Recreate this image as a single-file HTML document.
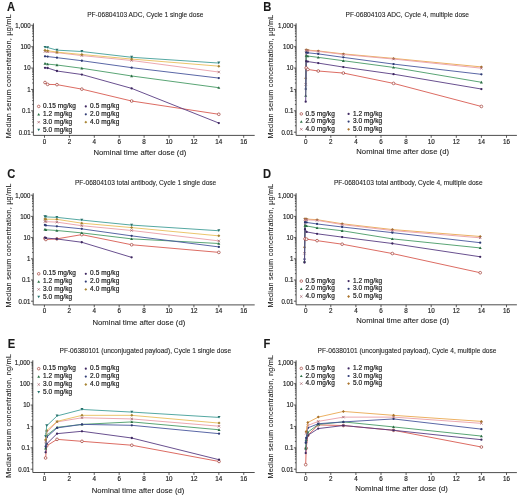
<!DOCTYPE html>
<html><head><meta charset="utf-8"><style>
html,body{margin:0;padding:0;background:#fff;width:520px;height:502px;overflow:hidden}
svg{display:block;filter:blur(0.3px)}
text{stroke:#1a1a1a;stroke-width:0.08px}
.lg{stroke-width:0.2px;letter-spacing:0.08px}
.tk{stroke-width:0.14px}
</style></head><body>
<svg width="520" height="502" viewBox="0 0 520 502" font-family='"Liberation Sans", sans-serif' fill="#1a1a1a">
<text transform="translate(7.0,10.6) scale(1,1.13)" font-size="11.2" font-weight="bold">A</text>
<text x="87.2" y="16.5" font-size="6.6">PF-06804103 ADC, Cycle 1 single dose</text>
<text transform="translate(11.2,138.2) rotate(-90)" font-size="7.3" letter-spacing="0.23">Median serum concentration, µg/mL</text>
<text transform="translate(93.5,154.8)" font-size="7.7">Nominal time after dose (d)</text>
<path d="M33.4,23.3 V135.4 H254.7" fill="none" stroke="#3a3a3a" stroke-width="0.9"/>
<path d="M31.2,132.2 H33.4 M32.2,125.76 H33.4 M32.2,122 H33.4 M32.2,119.33 H33.4 M32.2,117.26 H33.4 M32.2,115.56 H33.4 M32.2,114.13 H33.4 M32.2,112.89 H33.4 M32.2,111.8 H33.4 M31.2,110.82 H33.4 M32.2,104.38 H33.4 M32.2,100.62 H33.4 M32.2,97.95 H33.4 M32.2,95.88 H33.4 M32.2,94.18 H33.4 M32.2,92.75 H33.4 M32.2,91.51 H33.4 M32.2,90.42 H33.4 M31.2,89.44 H33.4 M32.2,83 H33.4 M32.2,79.24 H33.4 M32.2,76.57 H33.4 M32.2,74.5 H33.4 M32.2,72.8 H33.4 M32.2,71.37 H33.4 M32.2,70.13 H33.4 M32.2,69.04 H33.4 M31.2,68.06 H33.4 M32.2,61.62 H33.4 M32.2,57.86 H33.4 M32.2,55.19 H33.4 M32.2,53.12 H33.4 M32.2,51.42 H33.4 M32.2,49.99 H33.4 M32.2,48.75 H33.4 M32.2,47.66 H33.4 M31.2,46.68 H33.4 M32.2,40.24 H33.4 M32.2,36.48 H33.4 M32.2,33.81 H33.4 M32.2,31.74 H33.4 M32.2,30.04 H33.4 M32.2,28.61 H33.4 M32.2,27.37 H33.4 M32.2,26.28 H33.4 M31.2,25.3 H33.4 M44.5,135.4 V137.8 M69.4,135.4 V137.8 M94.3,135.4 V137.8 M119.2,135.4 V137.8 M144.1,135.4 V137.8 M169,135.4 V137.8 M193.9,135.4 V137.8 M218.8,135.4 V137.8 M243.7,135.4 V137.8" fill="none" stroke="#2a2a2a" stroke-width="0.75"/>
<text transform="translate(30.6,27.7) scale(1,1.13)" class="tk" font-size="6.1" text-anchor="end">1,000</text>
<text transform="translate(30.6,49.08) scale(1,1.13)" class="tk" font-size="6.1" text-anchor="end">100</text>
<text transform="translate(30.6,70.46) scale(1,1.13)" class="tk" font-size="6.1" text-anchor="end">10</text>
<text transform="translate(30.6,91.84) scale(1,1.13)" class="tk" font-size="6.1" text-anchor="end">1</text>
<text transform="translate(30.6,113.22) scale(1,1.13)" class="tk" font-size="6.1" text-anchor="end">0.1</text>
<text transform="translate(30.6,134.6) scale(1,1.13)" class="tk" font-size="6.1" text-anchor="end">0.01</text>
<text transform="translate(44.5,143.8) scale(1,1.1)" class="tk" font-size="6.3" text-anchor="middle">0</text>
<text transform="translate(69.4,143.8) scale(1,1.1)" class="tk" font-size="6.3" text-anchor="middle">2</text>
<text transform="translate(94.3,143.8) scale(1,1.1)" class="tk" font-size="6.3" text-anchor="middle">4</text>
<text transform="translate(119.2,143.8) scale(1,1.1)" class="tk" font-size="6.3" text-anchor="middle">6</text>
<text transform="translate(144.1,143.8) scale(1,1.1)" class="tk" font-size="6.3" text-anchor="middle">8</text>
<text transform="translate(169,143.8) scale(1,1.1)" class="tk" font-size="6.3" text-anchor="middle">10</text>
<text transform="translate(193.9,143.8) scale(1,1.1)" class="tk" font-size="6.3" text-anchor="middle">12</text>
<text transform="translate(218.8,143.8) scale(1,1.1)" class="tk" font-size="6.3" text-anchor="middle">14</text>
<text transform="translate(243.7,143.8) scale(1,1.1)" class="tk" font-size="6.3" text-anchor="middle">16</text>
<path d="M45,82.52 L47.61,84.38 L56.95,84.64 L81.85,89.13 L131.65,101.02 L218.8,114.27" fill="none" stroke="#d85c52" stroke-width="1.0" stroke-opacity="0.9"/>
<circle cx="45" cy="82.52" r="1.35" fill="#fff" stroke="#9d3a32" stroke-width="0.7"/>
<circle cx="47.61" cy="84.38" r="1.35" fill="#fff" stroke="#9d3a32" stroke-width="0.7"/>
<circle cx="56.95" cy="84.64" r="1.35" fill="#fff" stroke="#9d3a32" stroke-width="0.7"/>
<circle cx="81.85" cy="89.13" r="1.35" fill="#fff" stroke="#9d3a32" stroke-width="0.7"/>
<circle cx="131.65" cy="101.02" r="1.35" fill="#fff" stroke="#9d3a32" stroke-width="0.7"/>
<circle cx="218.8" cy="114.27" r="1.35" fill="#fff" stroke="#9d3a32" stroke-width="0.7"/>
<path d="M45,67.83 L47.61,68.01 L56.95,71.01 L81.85,74.53 L131.65,88.38 L218.8,123.04" fill="none" stroke="#593d83" stroke-width="1.0" stroke-opacity="0.9"/>
<circle cx="45" cy="67.83" r="1.15" fill="#3d275f"/>
<circle cx="47.61" cy="68.01" r="1.15" fill="#3d275f"/>
<circle cx="56.95" cy="71.01" r="1.15" fill="#3d275f"/>
<circle cx="81.85" cy="74.53" r="1.15" fill="#3d275f"/>
<circle cx="131.65" cy="88.38" r="1.15" fill="#3d275f"/>
<circle cx="218.8" cy="123.04" r="1.15" fill="#3d275f"/>
<path d="M45,63.48 L47.61,64.1 L56.95,65.01 L81.85,68.28 L131.65,75.98 L218.8,87.69" fill="none" stroke="#489b66" stroke-width="1.0" stroke-opacity="0.9"/>
<path d="M45,62.05 L46.5,64.65 L43.5,64.65Z" fill="#2a6c42"/>
<path d="M47.61,62.67 L49.11,65.27 L46.11,65.27Z" fill="#2a6c42"/>
<path d="M56.95,63.58 L58.45,66.18 L55.45,66.18Z" fill="#2a6c42"/>
<path d="M81.85,66.85 L83.35,69.45 L80.35,69.45Z" fill="#2a6c42"/>
<path d="M131.65,74.55 L133.15,77.15 L130.15,77.15Z" fill="#2a6c42"/>
<path d="M218.8,86.26 L220.3,88.86 L217.3,88.86Z" fill="#2a6c42"/>
<path d="M45,56.31 L47.61,56.57 L56.95,57.66 L81.85,60.73 L131.65,67.66 L218.8,78.08" fill="none" stroke="#48579c" stroke-width="1.0" stroke-opacity="0.9"/>
<circle cx="45" cy="56.31" r="1.15" fill="#2e3a72"/>
<circle cx="47.61" cy="56.57" r="1.15" fill="#2e3a72"/>
<circle cx="56.95" cy="57.66" r="1.15" fill="#2e3a72"/>
<circle cx="81.85" cy="60.73" r="1.15" fill="#2e3a72"/>
<circle cx="131.65" cy="67.66" r="1.15" fill="#2e3a72"/>
<circle cx="218.8" cy="78.08" r="1.15" fill="#2e3a72"/>
<path d="M45,51.52 L47.61,51.82 L56.95,52.63 L81.85,55.59 L131.65,60.49 L218.8,72.04" fill="none" stroke="#e99ea7" stroke-width="1.0" stroke-opacity="0.9"/>
<path d="M43.8,50.32 L46.2,52.72 M46.2,50.32 L43.8,52.72" stroke="#a46870" stroke-width="0.8"/>
<path d="M46.41,50.62 L48.81,53.02 M48.81,50.62 L46.41,53.02" stroke="#a46870" stroke-width="0.8"/>
<path d="M55.75,51.43 L58.15,53.83 M58.15,51.43 L55.75,53.83" stroke="#a46870" stroke-width="0.8"/>
<path d="M80.65,54.39 L83.05,56.79 M83.05,54.39 L80.65,56.79" stroke="#a46870" stroke-width="0.8"/>
<path d="M130.45,59.29 L132.85,61.69 M132.85,59.29 L130.45,61.69" stroke="#a46870" stroke-width="0.8"/>
<path d="M217.6,70.84 L220,73.24 M220,70.84 L217.6,73.24" stroke="#a46870" stroke-width="0.8"/>
<path d="M45,50.26 L47.61,50.66 L56.95,52.14 L81.85,54.49 L131.65,59.07 L218.8,66.17" fill="none" stroke="#e9bf5c" stroke-width="1.0" stroke-opacity="0.9"/>
<path d="M45,48.76 L46.5,50.26 L45,51.76 L43.5,50.26Z" fill="#a38132"/>
<path d="M47.61,49.16 L49.11,50.66 L47.61,52.16 L46.11,50.66Z" fill="#a38132"/>
<path d="M56.95,50.64 L58.45,52.14 L56.95,53.64 L55.45,52.14Z" fill="#a38132"/>
<path d="M81.85,52.99 L83.35,54.49 L81.85,55.99 L80.35,54.49Z" fill="#a38132"/>
<path d="M131.65,57.57 L133.15,59.07 L131.65,60.57 L130.15,59.07Z" fill="#a38132"/>
<path d="M218.8,64.67 L220.3,66.17 L218.8,67.67 L217.3,66.17Z" fill="#a38132"/>
<path d="M45,47.36 L47.61,47.56 L56.95,50.13 L81.85,51.52 L131.65,57.29 L218.8,63.05" fill="none" stroke="#439f98" stroke-width="1.0" stroke-opacity="0.9"/>
<path d="M45,48.53 L46.5,45.93 L43.5,45.93Z" fill="#266f6a"/>
<path d="M47.61,48.73 L49.11,46.13 L46.11,46.13Z" fill="#266f6a"/>
<path d="M56.95,51.3 L58.45,48.7 L55.45,48.7Z" fill="#266f6a"/>
<path d="M81.85,52.69 L83.35,50.09 L80.35,50.09Z" fill="#266f6a"/>
<path d="M131.65,58.46 L133.15,55.86 L130.15,55.86Z" fill="#266f6a"/>
<path d="M218.8,64.22 L220.3,61.62 L217.3,61.62Z" fill="#266f6a"/>
<circle cx="38.7" cy="106.4" r="1.28" fill="#fff" stroke="#a23c33" stroke-width="0.7"/>
<text class="lg" x="43" y="108" font-size="6.5">0.15 mg/kg</text>
<circle cx="85.8" cy="106.4" r="1.09" fill="#3f2862"/>
<text class="lg" x="90.1" y="108" font-size="6.5">0.5 mg/kg</text>
<path d="M38.7,112.94 L40.12,115.41 L37.28,115.41Z" fill="#2c7044"/>
<text class="lg" x="43" y="115.9" font-size="6.5">1.2 mg/kg</text>
<circle cx="85.8" cy="114.3" r="1.09" fill="#303c75"/>
<text class="lg" x="90.1" y="115.9" font-size="6.5">2.0 mg/kg</text>
<path d="M37.56,121.06 L39.84,123.34 M39.84,121.06 L37.56,123.34" stroke="#a96b73" stroke-width="0.8"/>
<text class="lg" x="43" y="123.8" font-size="6.5">3.0 mg/kg</text>
<path d="M85.8,120.78 L87.22,122.2 L85.8,123.62 L84.38,122.2Z" fill="#a88533"/>
<text class="lg" x="90.1" y="123.8" font-size="6.5">4.0 mg/kg</text>
<path d="M38.7,131.21 L40.12,128.74 L37.28,128.74Z" fill="#27726d"/>
<text class="lg" x="43" y="131.7" font-size="6.5">5.0 mg/kg</text>
<text transform="translate(263.3,10.7) scale(1,1.13)" font-size="11.2" font-weight="bold">B</text>
<text x="345.5" y="16.5" font-size="6.6">PF-06804103 ADC, Cycle 4, multiple dose</text>
<text transform="translate(272.9,138.5) rotate(-90)" font-size="7.3" letter-spacing="0.23">Median serum concentration, µg/mL</text>
<text transform="translate(356.3,154.10000000000002)" font-size="7.7">Nominal time after dose (d)</text>
<path d="M296.1,23.3 V135.4 H516.9" fill="none" stroke="#3a3a3a" stroke-width="0.9"/>
<path d="M293.9,132.2 H296.1 M294.9,125.76 H296.1 M294.9,122 H296.1 M294.9,119.33 H296.1 M294.9,117.26 H296.1 M294.9,115.56 H296.1 M294.9,114.13 H296.1 M294.9,112.89 H296.1 M294.9,111.8 H296.1 M293.9,110.82 H296.1 M294.9,104.38 H296.1 M294.9,100.62 H296.1 M294.9,97.95 H296.1 M294.9,95.88 H296.1 M294.9,94.18 H296.1 M294.9,92.75 H296.1 M294.9,91.51 H296.1 M294.9,90.42 H296.1 M293.9,89.44 H296.1 M294.9,83 H296.1 M294.9,79.24 H296.1 M294.9,76.57 H296.1 M294.9,74.5 H296.1 M294.9,72.8 H296.1 M294.9,71.37 H296.1 M294.9,70.13 H296.1 M294.9,69.04 H296.1 M293.9,68.06 H296.1 M294.9,61.62 H296.1 M294.9,57.86 H296.1 M294.9,55.19 H296.1 M294.9,53.12 H296.1 M294.9,51.42 H296.1 M294.9,49.99 H296.1 M294.9,48.75 H296.1 M294.9,47.66 H296.1 M293.9,46.68 H296.1 M294.9,40.24 H296.1 M294.9,36.48 H296.1 M294.9,33.81 H296.1 M294.9,31.74 H296.1 M294.9,30.04 H296.1 M294.9,28.61 H296.1 M294.9,27.37 H296.1 M294.9,26.28 H296.1 M293.9,25.3 H296.1 M305.7,135.4 V137.8 M330.8,135.4 V137.8 M355.9,135.4 V137.8 M381,135.4 V137.8 M406.1,135.4 V137.8 M431.2,135.4 V137.8 M456.3,135.4 V137.8 M481.4,135.4 V137.8 M506.5,135.4 V137.8" fill="none" stroke="#2a2a2a" stroke-width="0.75"/>
<text transform="translate(293.3,27.7) scale(1,1.13)" class="tk" font-size="6.1" text-anchor="end">1,000</text>
<text transform="translate(293.3,49.08) scale(1,1.13)" class="tk" font-size="6.1" text-anchor="end">100</text>
<text transform="translate(293.3,70.46) scale(1,1.13)" class="tk" font-size="6.1" text-anchor="end">10</text>
<text transform="translate(293.3,91.84) scale(1,1.13)" class="tk" font-size="6.1" text-anchor="end">1</text>
<text transform="translate(293.3,113.22) scale(1,1.13)" class="tk" font-size="6.1" text-anchor="end">0.1</text>
<text transform="translate(293.3,134.6) scale(1,1.13)" class="tk" font-size="6.1" text-anchor="end">0.01</text>
<text transform="translate(305.7,143.8) scale(1,1.1)" class="tk" font-size="6.3" text-anchor="middle">0</text>
<text transform="translate(330.8,143.8) scale(1,1.1)" class="tk" font-size="6.3" text-anchor="middle">2</text>
<text transform="translate(355.9,143.8) scale(1,1.1)" class="tk" font-size="6.3" text-anchor="middle">4</text>
<text transform="translate(381,143.8) scale(1,1.1)" class="tk" font-size="6.3" text-anchor="middle">6</text>
<text transform="translate(406.1,143.8) scale(1,1.1)" class="tk" font-size="6.3" text-anchor="middle">8</text>
<text transform="translate(431.2,143.8) scale(1,1.1)" class="tk" font-size="6.3" text-anchor="middle">10</text>
<text transform="translate(456.3,143.8) scale(1,1.1)" class="tk" font-size="6.3" text-anchor="middle">12</text>
<text transform="translate(481.4,143.8) scale(1,1.1)" class="tk" font-size="6.3" text-anchor="middle">14</text>
<text transform="translate(506.5,143.8) scale(1,1.1)" class="tk" font-size="6.3" text-anchor="middle">16</text>
<path d="M305.7,78.21 L306.2,49.75 L307.83,50.13 L318.25,50.94 L343.35,53.9 L393.55,58.42 L481.4,66.92" fill="none" stroke="#eaa851" stroke-width="1.0" stroke-opacity="0.9"/>
<path d="M305.7,76.71 L307.2,78.21 L305.7,79.71 L304.2,78.21Z" fill="#a5702b"/>
<path d="M306.2,48.25 L307.7,49.75 L306.2,51.25 L304.7,49.75Z" fill="#a5702b"/>
<path d="M307.83,48.63 L309.33,50.13 L307.83,51.63 L306.33,50.13Z" fill="#a5702b"/>
<path d="M318.25,49.44 L319.75,50.94 L318.25,52.44 L316.75,50.94Z" fill="#a5702b"/>
<path d="M343.35,52.4 L344.85,53.9 L343.35,55.4 L341.85,53.9Z" fill="#a5702b"/>
<path d="M393.55,56.92 L395.05,58.42 L393.55,59.92 L392.05,58.42Z" fill="#a5702b"/>
<path d="M481.4,65.42 L482.9,66.92 L481.4,68.42 L479.9,66.92Z" fill="#a5702b"/>
<path d="M305.7,84.38 L306.2,50.39 L307.83,50.66 L318.25,51.37 L343.35,54.49 L393.55,59.07 L481.4,68.19" fill="none" stroke="#e99ea7" stroke-width="1.0" stroke-opacity="0.9"/>
<path d="M304.5,83.18 L306.9,85.58 M306.9,83.18 L304.5,85.58" stroke="#a46870" stroke-width="0.8"/>
<path d="M305,49.19 L307.4,51.59 M307.4,49.19 L305,51.59" stroke="#a46870" stroke-width="0.8"/>
<path d="M306.63,49.46 L309.03,51.86 M309.03,49.46 L306.63,51.86" stroke="#a46870" stroke-width="0.8"/>
<path d="M317.05,50.17 L319.45,52.57 M319.45,50.17 L317.05,52.57" stroke="#a46870" stroke-width="0.8"/>
<path d="M342.15,53.29 L344.55,55.69 M344.55,53.29 L342.15,55.69" stroke="#a46870" stroke-width="0.8"/>
<path d="M392.35,57.87 L394.75,60.27 M394.75,57.87 L392.35,60.27" stroke="#a46870" stroke-width="0.8"/>
<path d="M480.2,66.99 L482.6,69.39 M482.6,66.99 L480.2,69.39" stroke="#a46870" stroke-width="0.8"/>
<path d="M305.7,89.04 L306.2,52.46 L307.83,52.8 L318.25,53.9 L343.35,57.37 L393.55,64.1 L481.4,74.35" fill="none" stroke="#48579c" stroke-width="1.0" stroke-opacity="0.9"/>
<circle cx="305.7" cy="89.04" r="1.15" fill="#2e3a72"/>
<circle cx="306.2" cy="52.46" r="1.15" fill="#2e3a72"/>
<circle cx="307.83" cy="52.8" r="1.15" fill="#2e3a72"/>
<circle cx="318.25" cy="53.9" r="1.15" fill="#2e3a72"/>
<circle cx="343.35" cy="57.37" r="1.15" fill="#2e3a72"/>
<circle cx="393.55" cy="64.1" r="1.15" fill="#2e3a72"/>
<circle cx="481.4" cy="74.35" r="1.15" fill="#2e3a72"/>
<path d="M305.7,95.56 L306.2,55.59 L307.83,56.06 L318.25,57.37 L343.35,60.73 L393.55,67.41 L481.4,82.27" fill="none" stroke="#489b66" stroke-width="1.0" stroke-opacity="0.9"/>
<path d="M305.7,94.13 L307.2,96.73 L304.2,96.73Z" fill="#2a6c42"/>
<path d="M306.2,54.16 L307.7,56.76 L304.7,56.76Z" fill="#2a6c42"/>
<path d="M307.83,54.63 L309.33,57.23 L306.33,57.23Z" fill="#2a6c42"/>
<path d="M318.25,55.94 L319.75,58.54 L316.75,58.54Z" fill="#2a6c42"/>
<path d="M343.35,59.3 L344.85,61.9 L341.85,61.9Z" fill="#2a6c42"/>
<path d="M393.55,65.98 L395.05,68.58 L392.05,68.58Z" fill="#2a6c42"/>
<path d="M481.4,80.84 L482.9,83.44 L479.9,83.44Z" fill="#2a6c42"/>
<path d="M305.7,101.66 L306.2,61.14 L307.83,61.57 L318.25,63.11 L343.35,67.08 L393.55,74.18 L481.4,89.04" fill="none" stroke="#593d83" stroke-width="1.0" stroke-opacity="0.9"/>
<circle cx="305.7" cy="101.66" r="1.15" fill="#3d275f"/>
<circle cx="306.2" cy="61.14" r="1.15" fill="#3d275f"/>
<circle cx="307.83" cy="61.57" r="1.15" fill="#3d275f"/>
<circle cx="318.25" cy="63.11" r="1.15" fill="#3d275f"/>
<circle cx="343.35" cy="67.08" r="1.15" fill="#3d275f"/>
<circle cx="393.55" cy="74.18" r="1.15" fill="#3d275f"/>
<circle cx="481.4" cy="89.04" r="1.15" fill="#3d275f"/>
<path d="M306.2,67.92 L307.83,69.44 L318.25,71.01 L343.35,73.05 L393.55,83.4 L481.4,106.46" fill="none" stroke="#d85c52" stroke-width="1.0" stroke-opacity="0.9"/>
<circle cx="306.2" cy="67.92" r="1.35" fill="#fff" stroke="#9d3a32" stroke-width="0.7"/>
<circle cx="307.83" cy="69.44" r="1.35" fill="#fff" stroke="#9d3a32" stroke-width="0.7"/>
<circle cx="318.25" cy="71.01" r="1.35" fill="#fff" stroke="#9d3a32" stroke-width="0.7"/>
<circle cx="343.35" cy="73.05" r="1.35" fill="#fff" stroke="#9d3a32" stroke-width="0.7"/>
<circle cx="393.55" cy="83.4" r="1.35" fill="#fff" stroke="#9d3a32" stroke-width="0.7"/>
<circle cx="481.4" cy="106.46" r="1.35" fill="#fff" stroke="#9d3a32" stroke-width="0.7"/>
<circle cx="301.3" cy="113.9" r="1.28" fill="#fff" stroke="#a23c33" stroke-width="0.7"/>
<text class="lg" x="305.6" y="115.5" font-size="6.5">0.5 mg/kg</text>
<circle cx="348.6" cy="113.9" r="1.09" fill="#3f2862"/>
<text class="lg" x="352.9" y="115.5" font-size="6.5">1.2 mg/kg</text>
<path d="M301.3,120.24 L302.73,122.71 L299.88,122.71Z" fill="#2c7044"/>
<text class="lg" x="305.6" y="123.2" font-size="6.5">2.0 mg/kg</text>
<circle cx="348.6" cy="121.6" r="1.09" fill="#303c75"/>
<text class="lg" x="352.9" y="123.2" font-size="6.5">3.0 mg/kg</text>
<path d="M300.16,128.16 L302.44,130.44 M302.44,128.16 L300.16,130.44" stroke="#a96b73" stroke-width="0.8"/>
<text class="lg" x="305.6" y="130.9" font-size="6.5">4.0 mg/kg</text>
<path d="M348.6,127.88 L350.03,129.3 L348.6,130.73 L347.18,129.3Z" fill="#aa742c"/>
<text class="lg" x="352.9" y="130.9" font-size="6.5">5.0 mg/kg</text>
<text transform="translate(7.2,177.9) scale(1,1.13)" font-size="11.2" font-weight="bold">C</text>
<text x="74.9" y="185.10000000000002" font-size="6.6">PF-06804103 total antibody, Cycle 1 single dose</text>
<text transform="translate(11.1,307.4) rotate(-90)" font-size="7.3" letter-spacing="0.23">Median serum concentration, µg/mL</text>
<text transform="translate(92.5,324.8)" font-size="7.7">Nominal time after dose (d)</text>
<path d="M33.2,193.2 V304.9 H254.7" fill="none" stroke="#3a3a3a" stroke-width="0.9"/>
<path d="M31,301.2 H33.2 M32,294.82 H33.2 M32,291.09 H33.2 M32,288.44 H33.2 M32,286.38 H33.2 M32,284.7 H33.2 M32,283.28 H33.2 M32,282.05 H33.2 M32,280.97 H33.2 M31,280 H33.2 M32,273.62 H33.2 M32,269.89 H33.2 M32,267.24 H33.2 M32,265.18 H33.2 M32,263.5 H33.2 M32,262.08 H33.2 M32,260.85 H33.2 M32,259.77 H33.2 M31,258.8 H33.2 M32,252.42 H33.2 M32,248.69 H33.2 M32,246.04 H33.2 M32,243.98 H33.2 M32,242.3 H33.2 M32,240.88 H33.2 M32,239.65 H33.2 M32,238.57 H33.2 M31,237.6 H33.2 M32,231.22 H33.2 M32,227.49 H33.2 M32,224.84 H33.2 M32,222.78 H33.2 M32,221.1 H33.2 M32,219.68 H33.2 M32,218.45 H33.2 M32,217.37 H33.2 M31,216.4 H33.2 M32,210.02 H33.2 M32,206.29 H33.2 M32,203.64 H33.2 M32,201.58 H33.2 M32,199.9 H33.2 M32,198.48 H33.2 M32,197.25 H33.2 M32,196.17 H33.2 M31,195.2 H33.2 M44.4,304.9 V307.3 M69.32,304.9 V307.3 M94.24,304.9 V307.3 M119.16,304.9 V307.3 M144.08,304.9 V307.3 M169,304.9 V307.3 M193.92,304.9 V307.3 M218.84,304.9 V307.3 M243.76,304.9 V307.3" fill="none" stroke="#2a2a2a" stroke-width="0.75"/>
<text transform="translate(30.4,197.6) scale(1,1.13)" class="tk" font-size="6.1" text-anchor="end">1,000</text>
<text transform="translate(30.4,218.8) scale(1,1.13)" class="tk" font-size="6.1" text-anchor="end">100</text>
<text transform="translate(30.4,240) scale(1,1.13)" class="tk" font-size="6.1" text-anchor="end">10</text>
<text transform="translate(30.4,261.2) scale(1,1.13)" class="tk" font-size="6.1" text-anchor="end">1</text>
<text transform="translate(30.4,282.4) scale(1,1.13)" class="tk" font-size="6.1" text-anchor="end">0.1</text>
<text transform="translate(30.4,303.6) scale(1,1.13)" class="tk" font-size="6.1" text-anchor="end">0.01</text>
<text transform="translate(44.4,313.3) scale(1,1.1)" class="tk" font-size="6.3" text-anchor="middle">0</text>
<text transform="translate(69.32,313.3) scale(1,1.1)" class="tk" font-size="6.3" text-anchor="middle">2</text>
<text transform="translate(94.24,313.3) scale(1,1.1)" class="tk" font-size="6.3" text-anchor="middle">4</text>
<text transform="translate(119.16,313.3) scale(1,1.1)" class="tk" font-size="6.3" text-anchor="middle">6</text>
<text transform="translate(144.08,313.3) scale(1,1.1)" class="tk" font-size="6.3" text-anchor="middle">8</text>
<text transform="translate(169,313.3) scale(1,1.1)" class="tk" font-size="6.3" text-anchor="middle">10</text>
<text transform="translate(193.92,313.3) scale(1,1.1)" class="tk" font-size="6.3" text-anchor="middle">12</text>
<text transform="translate(218.84,313.3) scale(1,1.1)" class="tk" font-size="6.3" text-anchor="middle">14</text>
<text transform="translate(243.76,313.3) scale(1,1.1)" class="tk" font-size="6.3" text-anchor="middle">16</text>
<path d="M44.9,238.47 L45.9,239.5 L56.86,238.87 L81.78,234.64 L131.62,244.76 L218.84,252.37" fill="none" stroke="#d85c52" stroke-width="1.0" stroke-opacity="0.9"/>
<circle cx="44.9" cy="238.47" r="1.35" fill="#fff" stroke="#9d3a32" stroke-width="0.7"/>
<circle cx="45.9" cy="239.5" r="1.35" fill="#fff" stroke="#9d3a32" stroke-width="0.7"/>
<circle cx="56.86" cy="238.87" r="1.35" fill="#fff" stroke="#9d3a32" stroke-width="0.7"/>
<circle cx="81.78" cy="234.64" r="1.35" fill="#fff" stroke="#9d3a32" stroke-width="0.7"/>
<circle cx="131.62" cy="244.76" r="1.35" fill="#fff" stroke="#9d3a32" stroke-width="0.7"/>
<circle cx="218.84" cy="252.37" r="1.35" fill="#fff" stroke="#9d3a32" stroke-width="0.7"/>
<path d="M44.9,237.55 L45.9,238 L56.86,238.97 L81.78,242.25 L131.62,257.37" fill="none" stroke="#593d83" stroke-width="1.0" stroke-opacity="0.9"/>
<circle cx="44.9" cy="237.55" r="1.15" fill="#3d275f"/>
<circle cx="45.9" cy="238" r="1.15" fill="#3d275f"/>
<circle cx="56.86" cy="238.97" r="1.15" fill="#3d275f"/>
<circle cx="81.78" cy="242.25" r="1.15" fill="#3d275f"/>
<circle cx="131.62" cy="257.37" r="1.15" fill="#3d275f"/>
<path d="M44.9,229.38 L45.9,229.75 L56.86,230.49 L81.78,232.9 L131.62,238.87 L218.84,243.5" fill="none" stroke="#489b66" stroke-width="1.0" stroke-opacity="0.9"/>
<path d="M44.9,227.95 L46.4,230.55 L43.4,230.55Z" fill="#2a6c42"/>
<path d="M45.9,228.32 L47.4,230.92 L44.4,230.92Z" fill="#2a6c42"/>
<path d="M56.86,229.06 L58.36,231.66 L55.36,231.66Z" fill="#2a6c42"/>
<path d="M81.78,231.47 L83.28,234.07 L80.28,234.07Z" fill="#2a6c42"/>
<path d="M131.62,237.44 L133.12,240.04 L130.12,240.04Z" fill="#2a6c42"/>
<path d="M218.84,242.07 L220.34,244.67 L217.34,244.67Z" fill="#2a6c42"/>
<path d="M44.9,225.01 L45.9,225.47 L56.86,226.31 L81.78,228.86 L131.62,235.87 L218.84,246.91" fill="none" stroke="#48579c" stroke-width="1.0" stroke-opacity="0.9"/>
<circle cx="44.9" cy="225.01" r="1.15" fill="#2e3a72"/>
<circle cx="45.9" cy="225.47" r="1.15" fill="#2e3a72"/>
<circle cx="56.86" cy="226.31" r="1.15" fill="#2e3a72"/>
<circle cx="81.78" cy="228.86" r="1.15" fill="#2e3a72"/>
<circle cx="131.62" cy="235.87" r="1.15" fill="#2e3a72"/>
<circle cx="218.84" cy="246.91" r="1.15" fill="#2e3a72"/>
<path d="M44.9,221.35 L45.9,221.66 L56.86,222.14 L81.78,225.71 L131.62,230.49 L218.84,240.9" fill="none" stroke="#e99ea7" stroke-width="1.0" stroke-opacity="0.9"/>
<path d="M43.7,220.15 L46.1,222.55 M46.1,220.15 L43.7,222.55" stroke="#a46870" stroke-width="0.8"/>
<path d="M44.7,220.46 L47.1,222.86 M47.1,220.46 L44.7,222.86" stroke="#a46870" stroke-width="0.8"/>
<path d="M55.66,220.94 L58.06,223.34 M58.06,220.94 L55.66,223.34" stroke="#a46870" stroke-width="0.8"/>
<path d="M80.58,224.51 L82.98,226.91 M82.98,224.51 L80.58,226.91" stroke="#a46870" stroke-width="0.8"/>
<path d="M130.42,229.29 L132.82,231.69 M132.82,229.29 L130.42,231.69" stroke="#a46870" stroke-width="0.8"/>
<path d="M217.64,239.7 L220.04,242.1 M220.04,239.7 L217.64,242.1" stroke="#a46870" stroke-width="0.8"/>
<path d="M44.9,219.09 L45.9,219.21 L56.86,219.33 L81.78,223.18 L131.62,227.58 L218.84,235.87" fill="none" stroke="#e9bf5c" stroke-width="1.0" stroke-opacity="0.9"/>
<path d="M44.9,217.59 L46.4,219.09 L44.9,220.59 L43.4,219.09Z" fill="#a38132"/>
<path d="M45.9,217.71 L47.4,219.21 L45.9,220.71 L44.4,219.21Z" fill="#a38132"/>
<path d="M56.86,217.83 L58.36,219.33 L56.86,220.83 L55.36,219.33Z" fill="#a38132"/>
<path d="M81.78,221.68 L83.28,223.18 L81.78,224.68 L80.28,223.18Z" fill="#a38132"/>
<path d="M131.62,226.08 L133.12,227.58 L131.62,229.08 L130.12,227.58Z" fill="#a38132"/>
<path d="M218.84,234.37 L220.34,235.87 L218.84,237.37 L217.34,235.87Z" fill="#a38132"/>
<path d="M44.9,216.8 L45.9,216.89 L56.86,217.37 L81.78,220.08 L131.62,225.1 L218.84,230.74" fill="none" stroke="#439f98" stroke-width="1.0" stroke-opacity="0.9"/>
<path d="M44.9,217.97 L46.4,215.37 L43.4,215.37Z" fill="#266f6a"/>
<path d="M45.9,218.06 L47.4,215.46 L44.4,215.46Z" fill="#266f6a"/>
<path d="M56.86,218.54 L58.36,215.94 L55.36,215.94Z" fill="#266f6a"/>
<path d="M81.78,221.25 L83.28,218.65 L80.28,218.65Z" fill="#266f6a"/>
<path d="M131.62,226.27 L133.12,223.67 L130.12,223.67Z" fill="#266f6a"/>
<path d="M218.84,231.91 L220.34,229.31 L217.34,229.31Z" fill="#266f6a"/>
<circle cx="38.7" cy="273.8" r="1.28" fill="#fff" stroke="#a23c33" stroke-width="0.7"/>
<text class="lg" x="43" y="275.4" font-size="6.5">0.15 mg/kg</text>
<circle cx="85.8" cy="273.8" r="1.09" fill="#3f2862"/>
<text class="lg" x="90.1" y="275.4" font-size="6.5">0.5 mg/kg</text>
<path d="M38.7,280.24 L40.12,282.71 L37.28,282.71Z" fill="#2c7044"/>
<text class="lg" x="43" y="283.2" font-size="6.5">1.2 mg/kg</text>
<circle cx="85.8" cy="281.6" r="1.09" fill="#303c75"/>
<text class="lg" x="90.1" y="283.2" font-size="6.5">2.0 mg/kg</text>
<path d="M37.56,288.26 L39.84,290.54 M39.84,288.26 L37.56,290.54" stroke="#a96b73" stroke-width="0.8"/>
<text class="lg" x="43" y="291" font-size="6.5">3.0 mg/kg</text>
<path d="M85.8,287.97 L87.22,289.4 L85.8,290.82 L84.38,289.4Z" fill="#a88533"/>
<text class="lg" x="90.1" y="291" font-size="6.5">4.0 mg/kg</text>
<path d="M38.7,298.31 L40.12,295.84 L37.28,295.84Z" fill="#27726d"/>
<text class="lg" x="43" y="298.8" font-size="6.5">5.0 mg/kg</text>
<text transform="translate(263,177.9) scale(1,1.13)" font-size="11.2" font-weight="bold">D</text>
<text x="333.9" y="185.10000000000002" font-size="6.6">PF-06804103 total antibody, Cycle 4, multiple dose</text>
<text transform="translate(272.8,307.6) rotate(-90)" font-size="7.3" letter-spacing="0.23">Median serum concentration, µg/mL</text>
<text transform="translate(356.3,323.0)" font-size="7.7">Nominal time after dose (d)</text>
<path d="M296.1,193.2 V304.8 H516.9" fill="none" stroke="#3a3a3a" stroke-width="0.9"/>
<path d="M293.9,301.2 H296.1 M294.9,294.82 H296.1 M294.9,291.09 H296.1 M294.9,288.44 H296.1 M294.9,286.38 H296.1 M294.9,284.7 H296.1 M294.9,283.28 H296.1 M294.9,282.05 H296.1 M294.9,280.97 H296.1 M293.9,280 H296.1 M294.9,273.62 H296.1 M294.9,269.89 H296.1 M294.9,267.24 H296.1 M294.9,265.18 H296.1 M294.9,263.5 H296.1 M294.9,262.08 H296.1 M294.9,260.85 H296.1 M294.9,259.77 H296.1 M293.9,258.8 H296.1 M294.9,252.42 H296.1 M294.9,248.69 H296.1 M294.9,246.04 H296.1 M294.9,243.98 H296.1 M294.9,242.3 H296.1 M294.9,240.88 H296.1 M294.9,239.65 H296.1 M294.9,238.57 H296.1 M293.9,237.6 H296.1 M294.9,231.22 H296.1 M294.9,227.49 H296.1 M294.9,224.84 H296.1 M294.9,222.78 H296.1 M294.9,221.1 H296.1 M294.9,219.68 H296.1 M294.9,218.45 H296.1 M294.9,217.37 H296.1 M293.9,216.4 H296.1 M294.9,210.02 H296.1 M294.9,206.29 H296.1 M294.9,203.64 H296.1 M294.9,201.58 H296.1 M294.9,199.9 H296.1 M294.9,198.48 H296.1 M294.9,197.25 H296.1 M294.9,196.17 H296.1 M293.9,195.2 H296.1 M305.7,304.8 V307.2 M330.8,304.8 V307.2 M355.9,304.8 V307.2 M381,304.8 V307.2 M406.1,304.8 V307.2 M431.2,304.8 V307.2 M456.3,304.8 V307.2 M481.4,304.8 V307.2 M506.5,304.8 V307.2" fill="none" stroke="#2a2a2a" stroke-width="0.75"/>
<text transform="translate(293.3,197.6) scale(1,1.13)" class="tk" font-size="6.1" text-anchor="end">1,000</text>
<text transform="translate(293.3,218.8) scale(1,1.13)" class="tk" font-size="6.1" text-anchor="end">100</text>
<text transform="translate(293.3,240) scale(1,1.13)" class="tk" font-size="6.1" text-anchor="end">10</text>
<text transform="translate(293.3,261.2) scale(1,1.13)" class="tk" font-size="6.1" text-anchor="end">1</text>
<text transform="translate(293.3,282.4) scale(1,1.13)" class="tk" font-size="6.1" text-anchor="end">0.1</text>
<text transform="translate(293.3,303.6) scale(1,1.13)" class="tk" font-size="6.1" text-anchor="end">0.01</text>
<text transform="translate(305.7,313.2) scale(1,1.1)" class="tk" font-size="6.3" text-anchor="middle">0</text>
<text transform="translate(330.8,313.2) scale(1,1.1)" class="tk" font-size="6.3" text-anchor="middle">2</text>
<text transform="translate(355.9,313.2) scale(1,1.1)" class="tk" font-size="6.3" text-anchor="middle">4</text>
<text transform="translate(381,313.2) scale(1,1.1)" class="tk" font-size="6.3" text-anchor="middle">6</text>
<text transform="translate(406.1,313.2) scale(1,1.1)" class="tk" font-size="6.3" text-anchor="middle">8</text>
<text transform="translate(431.2,313.2) scale(1,1.1)" class="tk" font-size="6.3" text-anchor="middle">10</text>
<text transform="translate(456.3,313.2) scale(1,1.1)" class="tk" font-size="6.3" text-anchor="middle">12</text>
<text transform="translate(481.4,313.2) scale(1,1.1)" class="tk" font-size="6.3" text-anchor="middle">14</text>
<text transform="translate(506.5,313.2) scale(1,1.1)" class="tk" font-size="6.3" text-anchor="middle">16</text>
<path d="M304.5,247.15 L305,218.85 L306.63,219.09 L317.05,219.7 L342.15,223.75 L392.35,229.56 L480.2,236.48" fill="none" stroke="#eaa851" stroke-width="1.0" stroke-opacity="0.9"/>
<path d="M304.5,245.65 L306,247.15 L304.5,248.65 L303,247.15Z" fill="#a5702b"/>
<path d="M305,217.35 L306.5,218.85 L305,220.35 L303.5,218.85Z" fill="#a5702b"/>
<path d="M306.63,217.59 L308.13,219.09 L306.63,220.59 L305.13,219.09Z" fill="#a5702b"/>
<path d="M317.05,218.2 L318.55,219.7 L317.05,221.2 L315.55,219.7Z" fill="#a5702b"/>
<path d="M342.15,222.25 L343.65,223.75 L342.15,225.25 L340.65,223.75Z" fill="#a5702b"/>
<path d="M392.35,228.06 L393.85,229.56 L392.35,231.06 L390.85,229.56Z" fill="#a5702b"/>
<path d="M480.2,234.98 L481.7,236.48 L480.2,237.98 L478.7,236.48Z" fill="#a5702b"/>
<path d="M304.5,253.29 L305,219.57 L306.63,219.82 L317.05,220.35 L342.15,224.57 L392.35,230.53 L480.2,237.82" fill="none" stroke="#e99ea7" stroke-width="1.0" stroke-opacity="0.9"/>
<path d="M303.3,252.09 L305.7,254.49 M305.7,252.09 L303.3,254.49" stroke="#a46870" stroke-width="0.8"/>
<path d="M303.8,218.37 L306.2,220.77 M306.2,218.37 L303.8,220.77" stroke="#a46870" stroke-width="0.8"/>
<path d="M305.43,218.62 L307.83,221.02 M307.83,218.62 L305.43,221.02" stroke="#a46870" stroke-width="0.8"/>
<path d="M315.85,219.15 L318.25,221.55 M318.25,219.15 L315.85,221.55" stroke="#a46870" stroke-width="0.8"/>
<path d="M340.95,223.37 L343.35,225.77 M343.35,223.37 L340.95,225.77" stroke="#a46870" stroke-width="0.8"/>
<path d="M391.15,229.33 L393.55,231.73 M393.55,229.33 L391.15,231.73" stroke="#a46870" stroke-width="0.8"/>
<path d="M479,236.62 L481.4,239.02 M481.4,236.62 L479,239.02" stroke="#a46870" stroke-width="0.8"/>
<path d="M304.5,259.2 L305,222.14 L306.63,222.47 L317.05,223.95 L342.15,227.01 L392.35,232.64 L480.2,242.7" fill="none" stroke="#48579c" stroke-width="1.0" stroke-opacity="0.9"/>
<circle cx="304.5" cy="259.2" r="1.15" fill="#2e3a72"/>
<circle cx="305" cy="222.14" r="1.15" fill="#2e3a72"/>
<circle cx="306.63" cy="222.47" r="1.15" fill="#2e3a72"/>
<circle cx="317.05" cy="223.95" r="1.15" fill="#2e3a72"/>
<circle cx="342.15" cy="227.01" r="1.15" fill="#2e3a72"/>
<circle cx="392.35" cy="232.64" r="1.15" fill="#2e3a72"/>
<circle cx="480.2" cy="242.7" r="1.15" fill="#2e3a72"/>
<path d="M304.5,261.25 L305,225.47 L306.63,225.95 L317.05,227.89 L342.15,230.74 L392.35,238.87 L480.2,247.93" fill="none" stroke="#489b66" stroke-width="1.0" stroke-opacity="0.9"/>
<path d="M304.5,259.82 L306,262.42 L303,262.42Z" fill="#2a6c42"/>
<path d="M305,224.04 L306.5,226.64 L303.5,226.64Z" fill="#2a6c42"/>
<path d="M306.63,224.52 L308.13,227.12 L305.13,227.12Z" fill="#2a6c42"/>
<path d="M317.05,226.46 L318.55,229.06 L315.55,229.06Z" fill="#2a6c42"/>
<path d="M342.15,229.31 L343.65,231.91 L340.65,231.91Z" fill="#2a6c42"/>
<path d="M392.35,237.44 L393.85,240.04 L390.85,240.04Z" fill="#2a6c42"/>
<path d="M480.2,246.5 L481.7,249.1 L478.7,249.1Z" fill="#2a6c42"/>
<path d="M304.5,262.48 L305,229.2 L306.63,231.9 L317.05,233.79 L342.15,237.12 L392.35,243.5 L480.2,256.78" fill="none" stroke="#593d83" stroke-width="1.0" stroke-opacity="0.9"/>
<circle cx="304.5" cy="262.48" r="1.15" fill="#3d275f"/>
<circle cx="305" cy="229.2" r="1.15" fill="#3d275f"/>
<circle cx="306.63" cy="231.9" r="1.15" fill="#3d275f"/>
<circle cx="317.05" cy="233.79" r="1.15" fill="#3d275f"/>
<circle cx="342.15" cy="237.12" r="1.15" fill="#3d275f"/>
<circle cx="392.35" cy="243.5" r="1.15" fill="#3d275f"/>
<circle cx="480.2" cy="256.78" r="1.15" fill="#3d275f"/>
<path d="M305,238.87 L306.63,239.18 L317.05,240.65 L342.15,244.2 L392.35,253.54 L480.2,272.73" fill="none" stroke="#d85c52" stroke-width="1.0" stroke-opacity="0.9"/>
<circle cx="305" cy="238.87" r="1.35" fill="#fff" stroke="#9d3a32" stroke-width="0.7"/>
<circle cx="306.63" cy="239.18" r="1.35" fill="#fff" stroke="#9d3a32" stroke-width="0.7"/>
<circle cx="317.05" cy="240.65" r="1.35" fill="#fff" stroke="#9d3a32" stroke-width="0.7"/>
<circle cx="342.15" cy="244.2" r="1.35" fill="#fff" stroke="#9d3a32" stroke-width="0.7"/>
<circle cx="392.35" cy="253.54" r="1.35" fill="#fff" stroke="#9d3a32" stroke-width="0.7"/>
<circle cx="480.2" cy="272.73" r="1.35" fill="#fff" stroke="#9d3a32" stroke-width="0.7"/>
<circle cx="301.3" cy="281.1" r="1.28" fill="#fff" stroke="#a23c33" stroke-width="0.7"/>
<text class="lg" x="305.6" y="282.7" font-size="6.5">0.5 mg/kg</text>
<circle cx="348.6" cy="281.1" r="1.09" fill="#3f2862"/>
<text class="lg" x="352.9" y="282.7" font-size="6.5">1.2 mg/kg</text>
<path d="M301.3,287.44 L302.73,289.91 L299.88,289.91Z" fill="#2c7044"/>
<text class="lg" x="305.6" y="290.4" font-size="6.5">2.0 mg/kg</text>
<circle cx="348.6" cy="288.8" r="1.09" fill="#303c75"/>
<text class="lg" x="352.9" y="290.4" font-size="6.5">3.0 mg/kg</text>
<path d="M300.16,295.36 L302.44,297.64 M302.44,295.36 L300.16,297.64" stroke="#a96b73" stroke-width="0.8"/>
<text class="lg" x="305.6" y="298.1" font-size="6.5">4.0 mg/kg</text>
<path d="M348.6,295.07 L350.03,296.5 L348.6,297.92 L347.18,296.5Z" fill="#aa742c"/>
<text class="lg" x="352.9" y="298.1" font-size="6.5">5.0 mg/kg</text>
<text transform="translate(7.8,347.7) scale(1,1.13)" font-size="11.2" font-weight="bold">E</text>
<text x="59.5" y="353.0" font-size="6.6">PF-06380101 (unconjugated payload), Cycle 1 single dose</text>
<text transform="translate(11.0,477.8) rotate(-90)" font-size="7.3" letter-spacing="0.23">Median serum concentration, ng/mL</text>
<text transform="translate(91.7,492.90000000000003)" font-size="7.7">Nominal time after dose (d)</text>
<path d="M32.8,360.3 V472.5 H254.7" fill="none" stroke="#3a3a3a" stroke-width="0.9"/>
<path d="M30.6,469.2 H32.8 M31.6,462.76 H32.8 M31.6,459 H32.8 M31.6,456.33 H32.8 M31.6,454.26 H32.8 M31.6,452.56 H32.8 M31.6,451.13 H32.8 M31.6,449.89 H32.8 M31.6,448.8 H32.8 M30.6,447.82 H32.8 M31.6,441.38 H32.8 M31.6,437.62 H32.8 M31.6,434.95 H32.8 M31.6,432.88 H32.8 M31.6,431.18 H32.8 M31.6,429.75 H32.8 M31.6,428.51 H32.8 M31.6,427.42 H32.8 M30.6,426.44 H32.8 M31.6,420 H32.8 M31.6,416.24 H32.8 M31.6,413.57 H32.8 M31.6,411.5 H32.8 M31.6,409.8 H32.8 M31.6,408.37 H32.8 M31.6,407.13 H32.8 M31.6,406.04 H32.8 M30.6,405.06 H32.8 M31.6,398.62 H32.8 M31.6,394.86 H32.8 M31.6,392.19 H32.8 M31.6,390.12 H32.8 M31.6,388.42 H32.8 M31.6,386.99 H32.8 M31.6,385.75 H32.8 M31.6,384.66 H32.8 M30.6,383.68 H32.8 M31.6,377.24 H32.8 M31.6,373.48 H32.8 M31.6,370.81 H32.8 M31.6,368.74 H32.8 M31.6,367.04 H32.8 M31.6,365.61 H32.8 M31.6,364.37 H32.8 M31.6,363.28 H32.8 M30.6,362.3 H32.8 M44.4,472.5 V474.9 M69.32,472.5 V474.9 M94.24,472.5 V474.9 M119.16,472.5 V474.9 M144.08,472.5 V474.9 M169,472.5 V474.9 M193.92,472.5 V474.9 M218.84,472.5 V474.9 M243.76,472.5 V474.9" fill="none" stroke="#2a2a2a" stroke-width="0.75"/>
<text transform="translate(30,364.7) scale(1,1.13)" class="tk" font-size="6.1" text-anchor="end">1,000</text>
<text transform="translate(30,386.08) scale(1,1.13)" class="tk" font-size="6.1" text-anchor="end">100</text>
<text transform="translate(30,407.46) scale(1,1.13)" class="tk" font-size="6.1" text-anchor="end">10</text>
<text transform="translate(30,428.84) scale(1,1.13)" class="tk" font-size="6.1" text-anchor="end">1</text>
<text transform="translate(30,450.22) scale(1,1.13)" class="tk" font-size="6.1" text-anchor="end">0.1</text>
<text transform="translate(30,471.6) scale(1,1.13)" class="tk" font-size="6.1" text-anchor="end">0.01</text>
<text transform="translate(44.4,480.9) scale(1,1.1)" class="tk" font-size="6.3" text-anchor="middle">0</text>
<text transform="translate(69.32,480.9) scale(1,1.1)" class="tk" font-size="6.3" text-anchor="middle">2</text>
<text transform="translate(94.24,480.9) scale(1,1.1)" class="tk" font-size="6.3" text-anchor="middle">4</text>
<text transform="translate(119.16,480.9) scale(1,1.1)" class="tk" font-size="6.3" text-anchor="middle">6</text>
<text transform="translate(144.08,480.9) scale(1,1.1)" class="tk" font-size="6.3" text-anchor="middle">8</text>
<text transform="translate(169,480.9) scale(1,1.1)" class="tk" font-size="6.3" text-anchor="middle">10</text>
<text transform="translate(193.92,480.9) scale(1,1.1)" class="tk" font-size="6.3" text-anchor="middle">12</text>
<text transform="translate(218.84,480.9) scale(1,1.1)" class="tk" font-size="6.3" text-anchor="middle">14</text>
<text transform="translate(243.76,480.9) scale(1,1.1)" class="tk" font-size="6.3" text-anchor="middle">16</text>
<path d="M45.6,457.97 L46.72,445.78 L57.06,439.35 L81.98,441.33 L131.82,445.23 L219.04,461.47" fill="none" stroke="#d85c52" stroke-width="1.0" stroke-opacity="0.9"/>
<circle cx="45.6" cy="457.97" r="1.35" fill="#fff" stroke="#9d3a32" stroke-width="0.7"/>
<circle cx="46.72" cy="445.78" r="1.35" fill="#fff" stroke="#9d3a32" stroke-width="0.7"/>
<circle cx="57.06" cy="439.35" r="1.35" fill="#fff" stroke="#9d3a32" stroke-width="0.7"/>
<circle cx="81.98" cy="441.33" r="1.35" fill="#fff" stroke="#9d3a32" stroke-width="0.7"/>
<circle cx="131.82" cy="445.23" r="1.35" fill="#fff" stroke="#9d3a32" stroke-width="0.7"/>
<circle cx="219.04" cy="461.47" r="1.35" fill="#fff" stroke="#9d3a32" stroke-width="0.7"/>
<path d="M45.6,452.36 L46.72,443.86 L57.06,433.66 L81.98,431.28 L131.82,438.02 L219.04,459.71" fill="none" stroke="#593d83" stroke-width="1.0" stroke-opacity="0.9"/>
<circle cx="45.6" cy="452.36" r="1.15" fill="#3d275f"/>
<circle cx="46.72" cy="443.86" r="1.15" fill="#3d275f"/>
<circle cx="57.06" cy="433.66" r="1.15" fill="#3d275f"/>
<circle cx="81.98" cy="431.28" r="1.15" fill="#3d275f"/>
<circle cx="131.82" cy="438.02" r="1.15" fill="#3d275f"/>
<circle cx="219.04" cy="459.71" r="1.15" fill="#3d275f"/>
<path d="M45.6,448.22 L46.72,435.35 L57.06,427.32 L81.98,424.4 L131.82,421.91 L219.04,429.76" fill="none" stroke="#489b66" stroke-width="1.0" stroke-opacity="0.9"/>
<path d="M45.6,446.79 L47.1,449.39 L44.1,449.39Z" fill="#2a6c42"/>
<path d="M46.72,433.92 L48.22,436.52 L45.22,436.52Z" fill="#2a6c42"/>
<path d="M57.06,425.89 L58.56,428.49 L55.56,428.49Z" fill="#2a6c42"/>
<path d="M81.98,422.97 L83.48,425.57 L80.48,425.57Z" fill="#2a6c42"/>
<path d="M131.82,420.48 L133.32,423.08 L130.32,423.08Z" fill="#2a6c42"/>
<path d="M219.04,428.33 L220.54,430.93 L217.54,430.93Z" fill="#2a6c42"/>
<path d="M45.6,446.53 L46.72,437.13 L57.06,427.92 L81.98,424.4 L131.82,425.3 L219.04,433.66" fill="none" stroke="#48579c" stroke-width="1.0" stroke-opacity="0.9"/>
<circle cx="45.6" cy="446.53" r="1.15" fill="#2e3a72"/>
<circle cx="46.72" cy="437.13" r="1.15" fill="#2e3a72"/>
<circle cx="57.06" cy="427.92" r="1.15" fill="#2e3a72"/>
<circle cx="81.98" cy="424.4" r="1.15" fill="#2e3a72"/>
<circle cx="131.82" cy="425.3" r="1.15" fill="#2e3a72"/>
<circle cx="219.04" cy="433.66" r="1.15" fill="#2e3a72"/>
<path d="M45.6,441.78 L46.72,432.39 L57.06,421.91 L81.98,417.76 L131.82,418.95 L219.04,426.21" fill="none" stroke="#e99ea7" stroke-width="1.0" stroke-opacity="0.9"/>
<path d="M44.4,440.58 L46.8,442.98 M46.8,440.58 L44.4,442.98" stroke="#a46870" stroke-width="0.8"/>
<path d="M45.52,431.19 L47.92,433.59 M47.92,431.19 L45.52,433.59" stroke="#a46870" stroke-width="0.8"/>
<path d="M55.86,420.71 L58.26,423.11 M58.26,420.71 L55.86,423.11" stroke="#a46870" stroke-width="0.8"/>
<path d="M80.78,416.56 L83.18,418.96 M83.18,416.56 L80.78,418.96" stroke="#a46870" stroke-width="0.8"/>
<path d="M130.62,417.75 L133.02,420.15 M133.02,417.75 L130.62,420.15" stroke="#a46870" stroke-width="0.8"/>
<path d="M217.84,425.01 L220.24,427.41 M220.24,425.01 L217.84,427.41" stroke="#a46870" stroke-width="0.8"/>
<path d="M45.6,439.71 L46.72,430.56 L57.06,421.38 L81.98,415.34 L131.82,415.34 L219.04,423.08" fill="none" stroke="#e9bf5c" stroke-width="1.0" stroke-opacity="0.9"/>
<path d="M45.6,438.21 L47.1,439.71 L45.6,441.21 L44.1,439.71Z" fill="#a38132"/>
<path d="M46.72,429.06 L48.22,430.56 L46.72,432.06 L45.22,430.56Z" fill="#a38132"/>
<path d="M57.06,419.88 L58.56,421.38 L57.06,422.88 L55.56,421.38Z" fill="#a38132"/>
<path d="M81.98,413.84 L83.48,415.34 L81.98,416.84 L80.48,415.34Z" fill="#a38132"/>
<path d="M131.82,413.84 L133.32,415.34 L131.82,416.84 L130.32,415.34Z" fill="#a38132"/>
<path d="M219.04,421.58 L220.54,423.08 L219.04,424.58 L217.54,423.08Z" fill="#a38132"/>
<path d="M45.6,436.59 L46.72,425.79 L57.06,415.95 L81.98,409.46 L131.82,412.08 L219.04,417.41" fill="none" stroke="#439f98" stroke-width="1.0" stroke-opacity="0.9"/>
<path d="M45.6,437.76 L47.1,435.16 L44.1,435.16Z" fill="#266f6a"/>
<path d="M46.72,426.96 L48.22,424.36 L45.22,424.36Z" fill="#266f6a"/>
<path d="M57.06,417.12 L58.56,414.52 L55.56,414.52Z" fill="#266f6a"/>
<path d="M81.98,410.63 L83.48,408.03 L80.48,408.03Z" fill="#266f6a"/>
<path d="M131.82,413.25 L133.32,410.65 L130.32,410.65Z" fill="#266f6a"/>
<path d="M219.04,418.58 L220.54,415.98 L217.54,415.98Z" fill="#266f6a"/>
<circle cx="38.7" cy="368.7" r="1.28" fill="#fff" stroke="#a23c33" stroke-width="0.7"/>
<text class="lg" x="43" y="370.3" font-size="6.5">0.15 mg/kg</text>
<circle cx="85.8" cy="368.7" r="1.09" fill="#3f2862"/>
<text class="lg" x="90.1" y="370.3" font-size="6.5">0.5 mg/kg</text>
<path d="M38.7,375.24 L40.12,377.71 L37.28,377.71Z" fill="#2c7044"/>
<text class="lg" x="43" y="378.2" font-size="6.5">1.2 mg/kg</text>
<circle cx="85.8" cy="376.6" r="1.09" fill="#303c75"/>
<text class="lg" x="90.1" y="378.2" font-size="6.5">2.0 mg/kg</text>
<path d="M37.56,383.36 L39.84,385.64 M39.84,383.36 L37.56,385.64" stroke="#a96b73" stroke-width="0.8"/>
<text class="lg" x="43" y="386.1" font-size="6.5">3.0 mg/kg</text>
<path d="M85.8,383.07 L87.22,384.5 L85.8,385.93 L84.38,384.5Z" fill="#a88533"/>
<text class="lg" x="90.1" y="386.1" font-size="6.5">4.0 mg/kg</text>
<path d="M38.7,393.51 L40.12,391.04 L37.28,391.04Z" fill="#27726d"/>
<text class="lg" x="43" y="394" font-size="6.5">5.0 mg/kg</text>
<text transform="translate(263.6,347.7) scale(1,1.13)" font-size="11.2" font-weight="bold">F</text>
<text x="317.6" y="352.90000000000003" font-size="6.6">PF-06380101 (unconjugated payload), Cycle 4, multiple dose</text>
<text transform="translate(272.8,478.6) rotate(-90)" font-size="7.3" letter-spacing="0.23">Median serum concentration, ng/mL</text>
<text transform="translate(355.2,491.0)" font-size="7.7">Nominal time after dose (d)</text>
<path d="M296.1,360.3 V472.6 H516.9" fill="none" stroke="#3a3a3a" stroke-width="0.9"/>
<path d="M293.9,469.2 H296.1 M294.9,462.76 H296.1 M294.9,459 H296.1 M294.9,456.33 H296.1 M294.9,454.26 H296.1 M294.9,452.56 H296.1 M294.9,451.13 H296.1 M294.9,449.89 H296.1 M294.9,448.8 H296.1 M293.9,447.82 H296.1 M294.9,441.38 H296.1 M294.9,437.62 H296.1 M294.9,434.95 H296.1 M294.9,432.88 H296.1 M294.9,431.18 H296.1 M294.9,429.75 H296.1 M294.9,428.51 H296.1 M294.9,427.42 H296.1 M293.9,426.44 H296.1 M294.9,420 H296.1 M294.9,416.24 H296.1 M294.9,413.57 H296.1 M294.9,411.5 H296.1 M294.9,409.8 H296.1 M294.9,408.37 H296.1 M294.9,407.13 H296.1 M294.9,406.04 H296.1 M293.9,405.06 H296.1 M294.9,398.62 H296.1 M294.9,394.86 H296.1 M294.9,392.19 H296.1 M294.9,390.12 H296.1 M294.9,388.42 H296.1 M294.9,386.99 H296.1 M294.9,385.75 H296.1 M294.9,384.66 H296.1 M293.9,383.68 H296.1 M294.9,377.24 H296.1 M294.9,373.48 H296.1 M294.9,370.81 H296.1 M294.9,368.74 H296.1 M294.9,367.04 H296.1 M294.9,365.61 H296.1 M294.9,364.37 H296.1 M294.9,363.28 H296.1 M293.9,362.3 H296.1 M305.7,472.6 V475 M330.8,472.6 V475 M355.9,472.6 V475 M381,472.6 V475 M406.1,472.6 V475 M431.2,472.6 V475 M456.3,472.6 V475 M481.4,472.6 V475 M506.5,472.6 V475" fill="none" stroke="#2a2a2a" stroke-width="0.75"/>
<text transform="translate(293.3,364.7) scale(1,1.13)" class="tk" font-size="6.1" text-anchor="end">1,000</text>
<text transform="translate(293.3,386.08) scale(1,1.13)" class="tk" font-size="6.1" text-anchor="end">100</text>
<text transform="translate(293.3,407.46) scale(1,1.13)" class="tk" font-size="6.1" text-anchor="end">10</text>
<text transform="translate(293.3,428.84) scale(1,1.13)" class="tk" font-size="6.1" text-anchor="end">1</text>
<text transform="translate(293.3,450.22) scale(1,1.13)" class="tk" font-size="6.1" text-anchor="end">0.1</text>
<text transform="translate(293.3,471.6) scale(1,1.13)" class="tk" font-size="6.1" text-anchor="end">0.01</text>
<text transform="translate(305.7,481) scale(1,1.1)" class="tk" font-size="6.3" text-anchor="middle">0</text>
<text transform="translate(330.8,481) scale(1,1.1)" class="tk" font-size="6.3" text-anchor="middle">2</text>
<text transform="translate(355.9,481) scale(1,1.1)" class="tk" font-size="6.3" text-anchor="middle">4</text>
<text transform="translate(381,481) scale(1,1.1)" class="tk" font-size="6.3" text-anchor="middle">6</text>
<text transform="translate(406.1,481) scale(1,1.1)" class="tk" font-size="6.3" text-anchor="middle">8</text>
<text transform="translate(431.2,481) scale(1,1.1)" class="tk" font-size="6.3" text-anchor="middle">10</text>
<text transform="translate(456.3,481) scale(1,1.1)" class="tk" font-size="6.3" text-anchor="middle">12</text>
<text transform="translate(481.4,481) scale(1,1.1)" class="tk" font-size="6.3" text-anchor="middle">14</text>
<text transform="translate(506.5,481) scale(1,1.1)" class="tk" font-size="6.3" text-anchor="middle">16</text>
<path d="M305.7,464.67 L306.2,448.22 L307.83,435.35 L318.25,424.92 L343.35,425.54 L393.55,430.29 L481.4,447" fill="none" stroke="#d85c52" stroke-width="1.0" stroke-opacity="0.9"/>
<circle cx="305.7" cy="464.67" r="1.35" fill="#fff" stroke="#9d3a32" stroke-width="0.7"/>
<circle cx="306.2" cy="448.22" r="1.35" fill="#fff" stroke="#9d3a32" stroke-width="0.7"/>
<circle cx="307.83" cy="435.35" r="1.35" fill="#fff" stroke="#9d3a32" stroke-width="0.7"/>
<circle cx="318.25" cy="424.92" r="1.35" fill="#fff" stroke="#9d3a32" stroke-width="0.7"/>
<circle cx="343.35" cy="425.54" r="1.35" fill="#fff" stroke="#9d3a32" stroke-width="0.7"/>
<circle cx="393.55" cy="430.29" r="1.35" fill="#fff" stroke="#9d3a32" stroke-width="0.7"/>
<circle cx="481.4" cy="447" r="1.35" fill="#fff" stroke="#9d3a32" stroke-width="0.7"/>
<path d="M305.7,453.12 L306.2,442.26 L307.83,435.35 L318.25,428.57 L343.35,425.54 L393.55,430.29 L481.4,439.71" fill="none" stroke="#593d83" stroke-width="1.0" stroke-opacity="0.9"/>
<circle cx="305.7" cy="453.12" r="1.15" fill="#3d275f"/>
<circle cx="306.2" cy="442.26" r="1.15" fill="#3d275f"/>
<circle cx="307.83" cy="435.35" r="1.15" fill="#3d275f"/>
<circle cx="318.25" cy="428.57" r="1.15" fill="#3d275f"/>
<circle cx="343.35" cy="425.54" r="1.15" fill="#3d275f"/>
<circle cx="393.55" cy="430.29" r="1.15" fill="#3d275f"/>
<circle cx="481.4" cy="439.71" r="1.15" fill="#3d275f"/>
<path d="M305.7,448.22 L306.2,439.71 L307.83,432.22 L318.25,424.4 L343.35,421.91 L393.55,426.93 L481.4,436.07" fill="none" stroke="#489b66" stroke-width="1.0" stroke-opacity="0.9"/>
<path d="M305.7,446.79 L307.2,449.39 L304.2,449.39Z" fill="#2a6c42"/>
<path d="M306.2,438.28 L307.7,440.88 L304.7,440.88Z" fill="#2a6c42"/>
<path d="M307.83,430.79 L309.33,433.39 L306.33,433.39Z" fill="#2a6c42"/>
<path d="M318.25,422.97 L319.75,425.57 L316.75,425.57Z" fill="#2a6c42"/>
<path d="M343.35,420.48 L344.85,423.08 L341.85,423.08Z" fill="#2a6c42"/>
<path d="M393.55,425.5 L395.05,428.1 L392.05,428.1Z" fill="#2a6c42"/>
<path d="M481.4,434.64 L482.9,437.24 L479.9,437.24Z" fill="#2a6c42"/>
<path d="M305.7,442.76 L306.2,438.02 L307.83,427.92 L318.25,423.72 L343.35,421.91 L393.55,418.95 L481.4,429.15" fill="none" stroke="#48579c" stroke-width="1.0" stroke-opacity="0.9"/>
<circle cx="305.7" cy="442.76" r="1.15" fill="#2e3a72"/>
<circle cx="306.2" cy="438.02" r="1.15" fill="#2e3a72"/>
<circle cx="307.83" cy="427.92" r="1.15" fill="#2e3a72"/>
<circle cx="318.25" cy="423.72" r="1.15" fill="#2e3a72"/>
<circle cx="343.35" cy="421.91" r="1.15" fill="#2e3a72"/>
<circle cx="393.55" cy="418.95" r="1.15" fill="#2e3a72"/>
<circle cx="481.4" cy="429.15" r="1.15" fill="#2e3a72"/>
<path d="M306.2,433.28 L307.83,425.46 L318.25,421.38 L343.35,417.12 L393.55,417.12 L481.4,423.33" fill="none" stroke="#e99ea7" stroke-width="1.0" stroke-opacity="0.9"/>
<path d="M305,432.08 L307.4,434.48 M307.4,432.08 L305,434.48" stroke="#a46870" stroke-width="0.8"/>
<path d="M306.63,424.26 L309.03,426.66 M309.03,424.26 L306.63,426.66" stroke="#a46870" stroke-width="0.8"/>
<path d="M317.05,420.18 L319.45,422.58 M319.45,420.18 L317.05,422.58" stroke="#a46870" stroke-width="0.8"/>
<path d="M342.15,415.92 L344.55,418.32 M344.55,415.92 L342.15,418.32" stroke="#a46870" stroke-width="0.8"/>
<path d="M392.35,415.92 L394.75,418.32 M394.75,415.92 L392.35,418.32" stroke="#a46870" stroke-width="0.8"/>
<path d="M480.2,422.13 L482.6,424.53 M482.6,422.13 L480.2,424.53" stroke="#a46870" stroke-width="0.8"/>
<path d="M306.2,431.58 L307.83,422.53 L318.25,417.12 L343.35,411.44 L393.55,415.34 L481.4,421.38" fill="none" stroke="#eaa851" stroke-width="1.0" stroke-opacity="0.9"/>
<path d="M306.2,430.08 L307.7,431.58 L306.2,433.08 L304.7,431.58Z" fill="#a5702b"/>
<path d="M307.83,421.03 L309.33,422.53 L307.83,424.03 L306.33,422.53Z" fill="#a5702b"/>
<path d="M318.25,415.62 L319.75,417.12 L318.25,418.62 L316.75,417.12Z" fill="#a5702b"/>
<path d="M343.35,409.94 L344.85,411.44 L343.35,412.94 L341.85,411.44Z" fill="#a5702b"/>
<path d="M393.55,413.84 L395.05,415.34 L393.55,416.84 L392.05,415.34Z" fill="#a5702b"/>
<path d="M481.4,419.88 L482.9,421.38 L481.4,422.88 L479.9,421.38Z" fill="#a5702b"/>
<circle cx="301.3" cy="368.4" r="1.28" fill="#fff" stroke="#a23c33" stroke-width="0.7"/>
<text class="lg" x="305.6" y="370" font-size="6.5">0.5 mg/kg</text>
<circle cx="348.6" cy="368.4" r="1.09" fill="#3f2862"/>
<text class="lg" x="352.9" y="370" font-size="6.5">1.2 mg/kg</text>
<path d="M301.3,374.64 L302.73,377.11 L299.88,377.11Z" fill="#2c7044"/>
<text class="lg" x="305.6" y="377.6" font-size="6.5">2.0 mg/kg</text>
<circle cx="348.6" cy="376" r="1.09" fill="#303c75"/>
<text class="lg" x="352.9" y="377.6" font-size="6.5">3.0 mg/kg</text>
<path d="M300.16,382.46 L302.44,384.74 M302.44,382.46 L300.16,384.74" stroke="#a96b73" stroke-width="0.8"/>
<text class="lg" x="305.6" y="385.2" font-size="6.5">4.0 mg/kg</text>
<path d="M348.6,382.17 L350.03,383.6 L348.6,385.02 L347.18,383.6Z" fill="#aa742c"/>
<text class="lg" x="352.9" y="385.2" font-size="6.5">5.0 mg/kg</text>
</svg>
</body></html>
